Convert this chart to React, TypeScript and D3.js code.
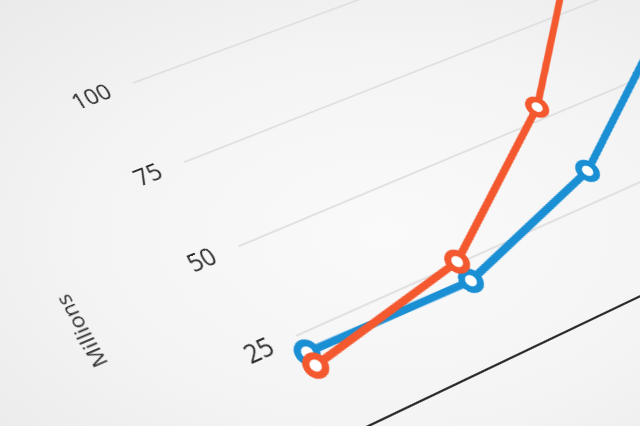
import * as React from 'react'
import * as d3 from 'd3'

// chart data
const periods = ['P1', 'P2', 'P3', 'P4']
const blueSeries = [20.5, 20, 33, 60]
const orangeSeries = [17, 25.5, 53.5, 96]
const yTicks = [25, 50, 75, 100]
const yTitle = 'Millions'

// flat sheet size and where the plot sits on it
const W = 1100
const H = 800
const ML = 320
const STEP = 200

// two plot corners on the sheet -> where they show up in the photo
const SHEET_PTS = [[ML, 720], [ML, 320], [ML + 2 * STEP, 720], [ML + 2 * STEP, 320]]
const PHOTO_PTS = [[358, 431], [133, 83], [674, 280], [431, -27]]

function homography(src: number[][], dst: number[][]) {
    const A: number[][] = []
    const b: number[] = []
    src.forEach(([x, y], i) => {
        const [X, Y] = dst[i]
        A.push([x, y, 1, 0, 0, 0, -x * X, -y * X]); b.push(X)
        A.push([0, 0, 0, x, y, 1, -x * Y, -y * Y]); b.push(Y)
    })
    const n = 8
    for (let c = 0; c < n; c++) {
        let p = c
        for (let r = c + 1; r < n; r++) if (Math.abs(A[r][c]) > Math.abs(A[p][c])) p = r
        const tmp = A[c]; A[c] = A[p]; A[p] = tmp
        const tb = b[c]; b[c] = b[p]; b[p] = tb
        for (let r = 0; r < n; r++) {
            if (r === c) continue
            const f = A[r][c] / A[c][c]
            for (let k = c; k < n; k++) A[r][k] -= f * A[c][k]
            b[r] -= f * b[c]
        }
    }
    return b.map((v, i) => v / A[i][i])
}

export default function App() {
    const h = homography(SHEET_PTS, PHOTO_PTS)
    const m3d = `matrix3d(${h[0]},${h[3]},0,${h[6]},${h[1]},${h[4]},0,${h[7]},0,0,1,0,${h[2]},${h[5]},0,1)`

    const xScale = d3.scalePoint<string>().domain(periods).range([ML, ML + 3 * STEP])
    const yScale = d3.scaleLinear().domain([0, 150]).range([720, 120])

    const line = d3.line<number>()
        .x((_, i) => xScale(periods[i]) as number)
        .y(d => yScale(d))

    const series = [
        { name: 'blue', values: blueSeries, color: '#1b8fd4' },
        { name: 'orange', values: orangeSeries, color: '#f3582f' },
    ]

    return <div style={{
        position: 'fixed', left: 0, top: 0, width: 640, height: 426, overflow: 'hidden',
        background: 'radial-gradient(ellipse at 60% 55%, #fafafa 0%, #f4f4f4 55%, #eaeaea 100%)',
    }}>
        <svg width={W} height={H} style={{
            position: 'absolute', left: 0, top: 0, overflow: 'visible',
            transformOrigin: '0 0', transform: m3d,
        }}>
            <g fontFamily="'Open Sans', sans-serif">
                {yTicks.map(t =>
                    <g key={t}>
                        <line x1={ML} x2={W} y1={yScale(t)} y2={yScale(t)} stroke="#dadada" strokeWidth={1.4} />
                        <text x={ML - 28} y={yScale(t)} textAnchor="end" dominantBaseline="middle"
                            fontSize={26} fill="#2e2e2e">{t}</text>
                    </g>
                )}
                <line x1={ML} x2={W} y1={yScale(0)} y2={yScale(0)} stroke="#2a2a2a" strokeWidth={2} />
                <text transform={`translate(${ML - 190} ${yScale(46)}) rotate(-90)`} textAnchor="middle"
                    dominantBaseline="middle" fontSize={21} fill="#2a2a2a">{yTitle}</text>

                {series.map(s =>
                    <g key={s.name}>
                        <path d={line(s.values) as string} fill="none" stroke={s.color} strokeWidth={7.5}
                            strokeLinejoin="round" />
                        {s.values.map((v, i) =>
                            <circle key={i} cx={xScale(periods[i]) as number} cy={yScale(v)} r={9.5}
                                fill="#ffffff" stroke={s.color} strokeWidth={7} />
                        )}
                    </g>
                )}
            </g>
        </svg>
    </div>
}
